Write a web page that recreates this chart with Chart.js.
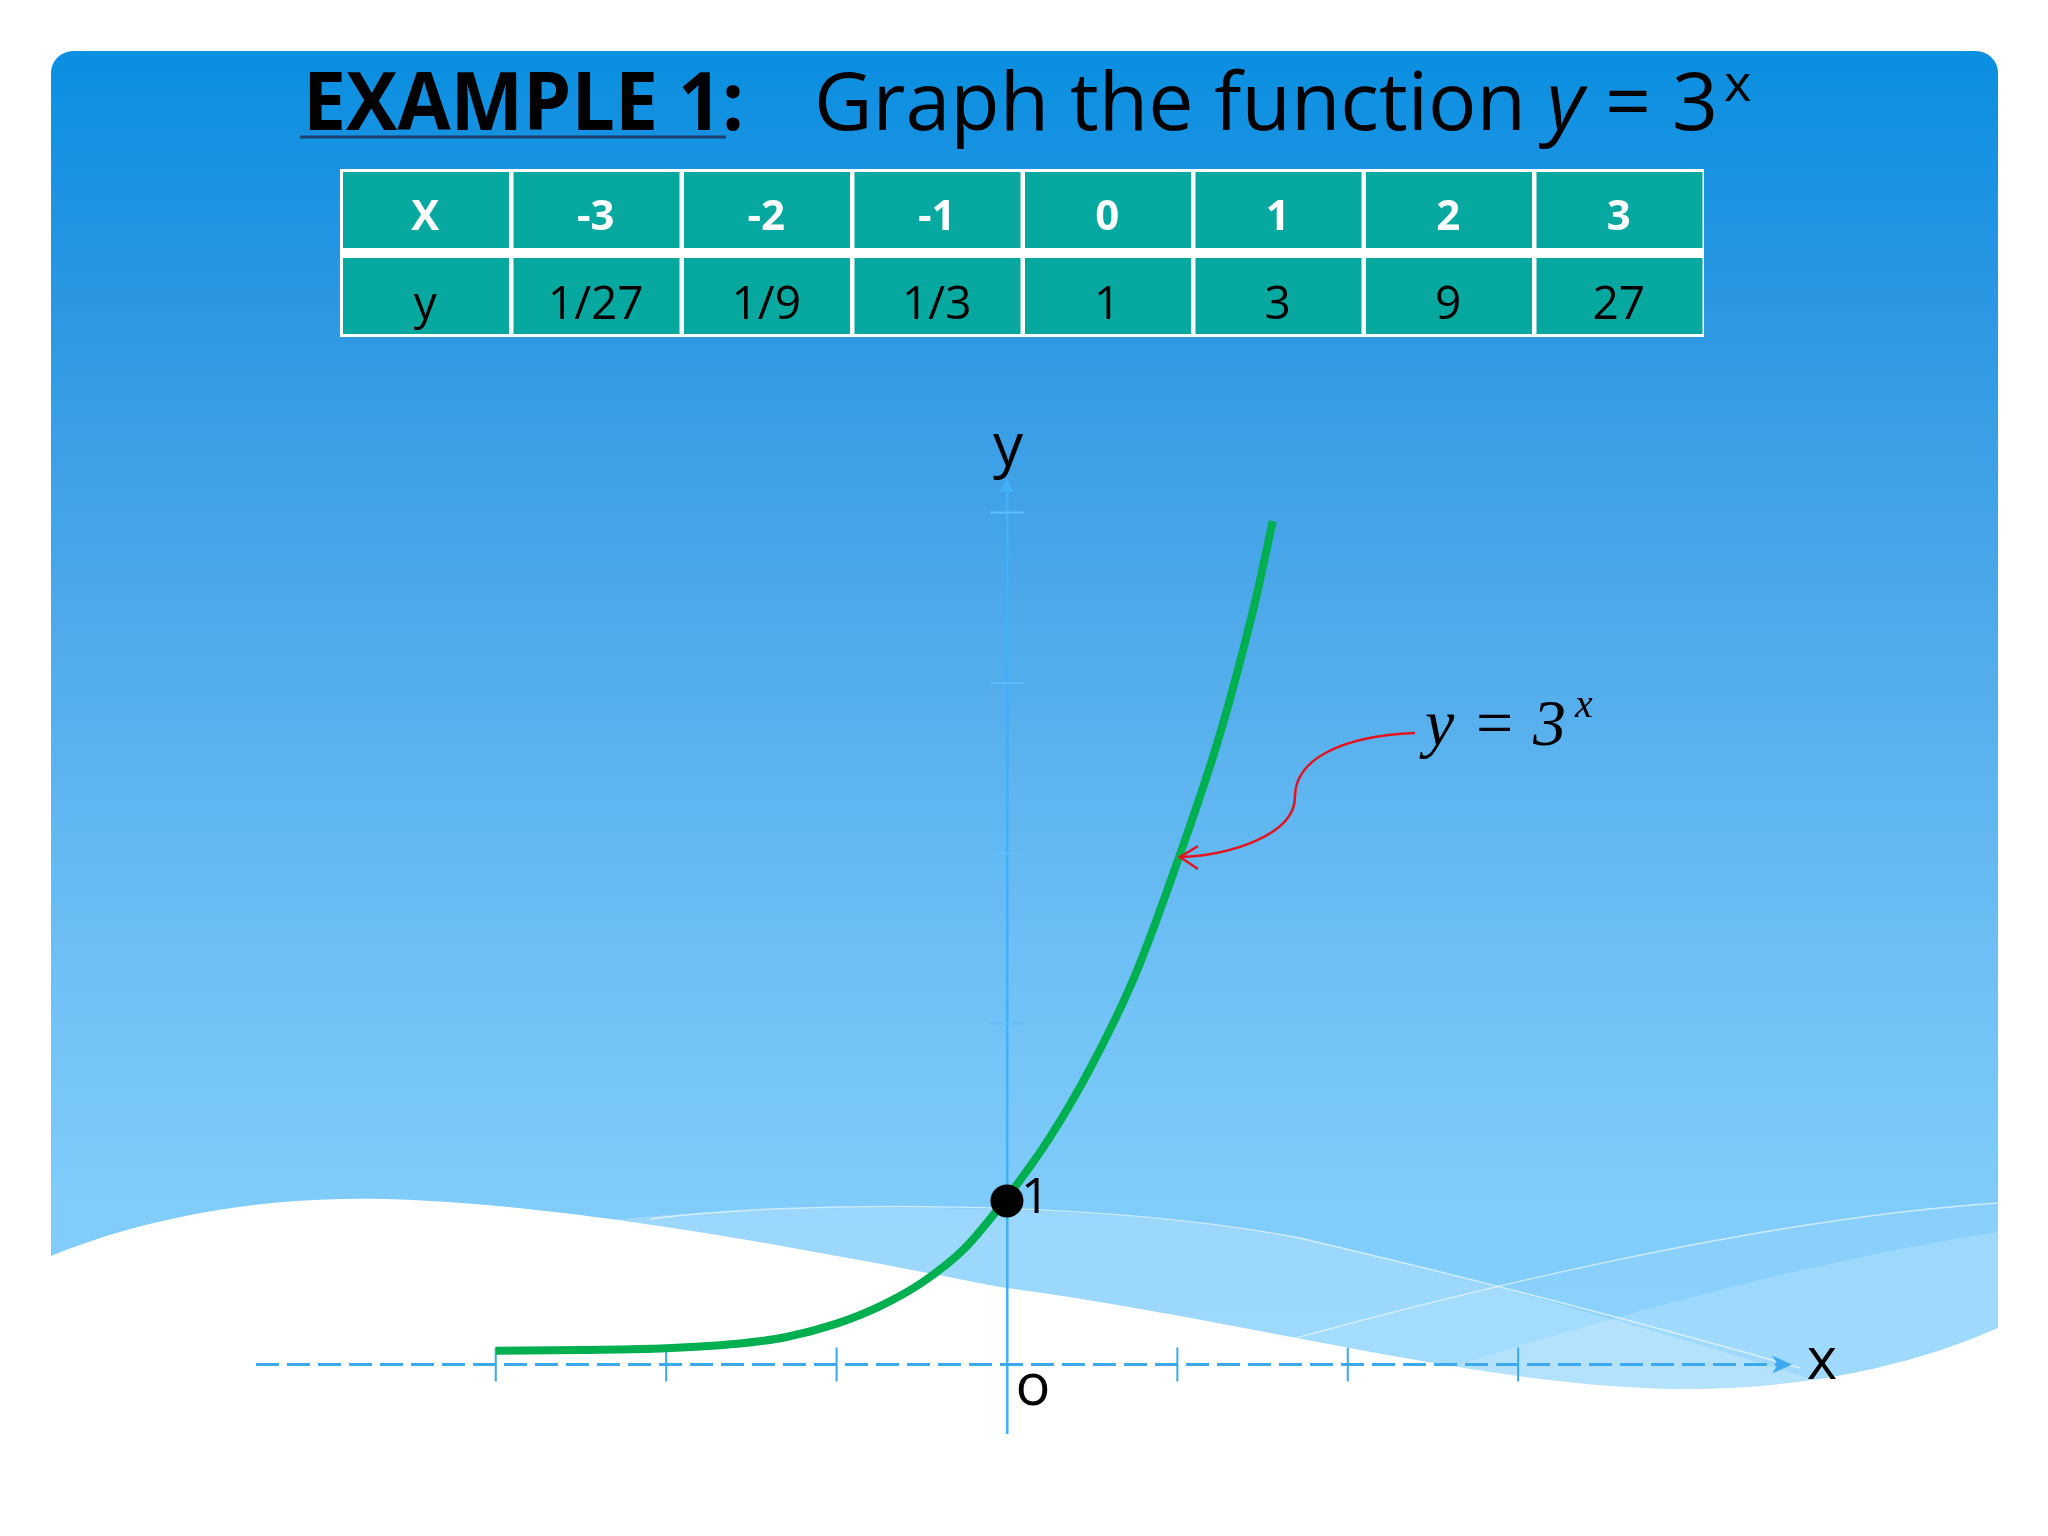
<!DOCTYPE html>
<html>
<head>
<meta charset="utf-8">
<title>Graph of y = 3^x</title>
<script src="https://cdn.jsdelivr.net/npm/chart.js@4.4.1/dist/chart.umd.min.js"></script>
<style>
  html, body { margin: 0; padding: 0; background: #ffffff; }
  #wrap { position: relative; width: 2048px; height: 1536px; }
</style>
</head>
<body>
<div id="wrap"><canvas id="graph"></canvas></div>
<script>
// table shown above the graph
const tableX = ['X', '-3', '-2', '-1', '0', '1', '2', '3'];
const tableY = ['y', '1/27', '1/9', '1/3', '1', '3', '9', '27'];

// points of the green curve
const curveX = [-3, -2.5, -2, -1.6, -1.3, -1, -0.75, -0.5, -0.25, 0, 0.25, 0.5, 0.75, 1.0, 1.25, 1.45, 1.56];
const curveY = [0.08, 0.085, 0.095, 0.12, 0.16, 0.24, 0.34, 0.48, 0.68, 0.98, 1.33, 1.76, 2.28, 2.95, 3.70, 4.45, 4.95];

// marked point (0, 1)
const dotX = [0];
const dotY = [0.96];

// tick marks on the axes
const xTicks = [-3, -2, -1, 1, 2, 3];
const yTicks = [1, 2, 3, 4, 5];

document.addEventListener('DOMContentLoaded', function() {
    const ctx = document.getElementById('graph').getContext('2d');

    function drawBackground(c) {
        // blue panel
        c.save();
        c.beginPath();
        c.roundRect(51, 51, 1947, 1485, [22, 22, 0, 0]);
        c.clip();
        const g = c.createLinearGradient(0, 51, 0, 1320);
        g.addColorStop(0, '#0a8fe1');
        g.addColorStop(0.2, '#2c97e3');
        g.addColorStop(0.45, '#4eaaea');
        g.addColorStop(0.7, '#6cbef4');
        g.addColorStop(0.9, '#7fccfb');
        g.addColorStop(1, '#82cffc');
        c.fillStyle = g;
        c.fillRect(51, 51, 1947, 1485);

        // light bands
        c.fillStyle = 'rgba(255,255,255,0.07)';
        c.beginPath();
        c.moveTo(1263, 1347);
        c.bezierCurveTo(1450, 1295, 1750, 1220, 1998, 1203);
        c.lineTo(1998, 1536);
        c.lineTo(1263, 1536);
        c.fill();

        c.fillStyle = 'rgba(255,255,255,0.18)';
        c.beginPath();
        c.moveTo(1380, 1390);
        c.bezierCurveTo(1560, 1330, 1800, 1262, 1998, 1232);
        c.lineTo(1998, 1536);
        c.lineTo(1380, 1536);
        c.fill();

        c.fillStyle = 'rgba(255,255,255,0.22)';
        c.beginPath();
        c.moveTo(560, 1226);
        c.bezierCurveTo(750, 1200, 1100, 1200, 1300, 1238);
        c.bezierCurveTo(1500, 1285, 1700, 1340, 1998, 1440);
        c.lineTo(1998, 1536);
        c.lineTo(560, 1536);
        c.fill();

        c.strokeStyle = 'rgba(255,255,255,0.6)';
        c.lineWidth = 1.5;
        c.beginPath();
        c.moveTo(650, 1219);
        c.bezierCurveTo(800, 1200, 1100, 1200, 1300, 1238);
        c.bezierCurveTo(1500, 1285, 1650, 1325, 1800, 1368);
        c.stroke();
        c.beginPath();
        c.moveTo(1263, 1347);
        c.bezierCurveTo(1450, 1295, 1750, 1220, 1998, 1203);
        c.stroke();

        // white wave
        c.fillStyle = '#ffffff';
        c.beginPath();
        c.moveTo(51, 1256);
        c.bezierCurveTo(150, 1215, 270, 1196, 384, 1199);
        c.bezierCurveTo(560, 1204, 760, 1240, 1000, 1287);
        c.bezierCurveTo(1250, 1320, 1500, 1392, 1700, 1389);
        c.bezierCurveTo(1830, 1387, 1930, 1358, 1998, 1328);
        c.lineTo(1998, 1536);
        c.lineTo(51, 1536);
        c.closePath();
        c.fill();
        c.restore();
    }

    // draws text squeezed or stretched to a given width
    function fitText(c, text, x, y, width) {
        const w = c.measureText(text).width;
        c.save();
        c.translate(x, y);
        c.scale(width / w, 1);
        c.fillText(text, 0, 0);
        c.restore();
    }

    function drawTitle(c) {
        c.save();
        c.fillStyle = '#000000';
        c.textBaseline = 'alphabetic';
        c.textAlign = 'left';
        c.font = 'bold 80px "Open Sans"';
        fitText(c, 'EXAMPLE 1:', 303, 130, 441);
        c.strokeStyle = '#1b3f6e';
        c.lineWidth = 3;
        c.beginPath();
        c.moveTo(300, 137);
        c.lineTo(726, 137);
        c.stroke();

        // "Graph the function y = 3" spans about 904 px
        c.font = '80px "Open Sans"';
        const w1 = c.measureText('Graph the function ').width;
        const w3 = c.measureText(' = 3').width;
        c.font = 'italic 80px "Open Sans"';
        const w2 = c.measureText('y').width;
        const k = 904 / (w1 + w2 + w3);
        c.translate(814, 130);
        c.scale(k, 1);
        c.font = '80px "Open Sans"';
        c.fillText('Graph the function ', 0, 0);
        c.font = 'italic 80px "Open Sans"';
        c.fillText('y', w1, 0);
        c.font = '80px "Open Sans"';
        c.fillText(' = 3', w1 + w2, 0);
        c.font = '52px "Open Sans"';
        c.fillText('x', w1 + w2 + w3 + 6, -29);
        c.restore();
    }

    function drawTable(c) {
        const left = 340, top = 169, colW = 170.5;
        const rowH = 80, gap = 8;
        c.save();
        c.fillStyle = '#ffffff';
        c.fillRect(left, top, colW * tableX.length, rowH * 2 + gap);
        c.textAlign = 'center';
        c.textBaseline = 'alphabetic';
        for (let i = 0; i < tableX.length; i++) {
            const cx = left + i * colW;
            c.fillStyle = '#06a8a0';
            c.fillRect(cx + 3, top + 3, colW - 4.5, rowH - 4);
            c.fillRect(cx + 3, top + rowH + gap + 1, colW - 4.5, rowH - 4);

            c.fillStyle = '#ffffff';
            c.font = 'bold 42px "Open Sans"';
            c.fillText(tableX[i], cx + colW / 2, top + 61);
            c.fillStyle = '#000000';
            c.font = '46px "Open Sans"';
            c.fillText(tableY[i], cx + colW / 2, top + rowH + gap + 62);
        }
        c.restore();
    }

    const slidePlugin = {
        id: 'slide',
        beforeDraw(chart) {
            const c = chart.ctx;
            drawBackground(c);
            drawTitle(c);
            drawTable(c);
        },
        beforeDatasetsDraw(chart) {
            const c = chart.ctx;
            const xs = chart.scales.x, ys = chart.scales.y;
            const ox = xs.getPixelForValue(0), oy = ys.getPixelForValue(0);
            const left = chart.chartArea.left, right = chart.chartArea.right, top = chart.chartArea.top;
            c.save();

            // dashed x axis
            c.strokeStyle = '#3ca9ee';
            c.lineWidth = 3;
            c.setLineDash([23, 8]);
            c.beginPath();
            c.moveTo(left, oy);
            c.lineTo(right - 6, oy);
            c.stroke();
            c.setLineDash([]);

            c.lineWidth = 2;
            c.strokeStyle = '#3aa8ee';
            xTicks.forEach(v => {
                const px = xs.getPixelForValue(v);
                c.beginPath();
                c.moveTo(px, oy - 17);
                c.lineTo(px, oy + 17);
                c.stroke();
            });
            c.strokeStyle = 'rgba(95,192,255,0.85)';
            yTicks.forEach(v => {
                const py = ys.getPixelForValue(v);
                c.beginPath();
                c.moveTo(ox - 17, py);
                c.lineTo(ox + 17, py);
                c.stroke();
            });

            // arrow heads at the axis ends
            c.fillStyle = '#3ca9ee';
            c.beginPath();
            c.moveTo(right, oy);
            c.lineTo(right - 20, oy - 9);
            c.lineTo(right - 14, oy);
            c.lineTo(right - 20, oy + 9);
            c.closePath();
            c.fill();
            c.fillStyle = '#42b0f8';
            c.beginPath();
            c.moveTo(ox, top - 2);
            c.lineTo(ox - 7, top + 12);
            c.lineTo(ox + 7, top + 12);
            c.closePath();
            c.fill();
            c.restore();
        },
        afterDatasetsDraw(chart) {
            const c = chart.ctx;
            const xs = chart.scales.x, ys = chart.scales.y;
            const ox = xs.getPixelForValue(0), oy = ys.getPixelForValue(0);
            const P = (x, y) => [xs.getPixelForValue(x), ys.getPixelForValue(y)];
            c.save();
            c.fillStyle = '#000000';
            c.textBaseline = 'alphabetic';
            c.textAlign = 'center';
            c.font = '60px "Open Sans"';
            c.fillText('y', ox + 1, chart.chartArea.top - 14);
            c.font = '58px "Open Sans"';
            c.fillText('x', chart.chartArea.right + 30, oy + 14);
            c.fillText('o', ox + 26, oy + 40);
            c.textAlign = 'left';
            c.font = '50px "Open Sans"';
            c.fillText('1', ox + 14, ys.getPixelForValue(dotY[0]) + 12);

            // red callout arrow
            const a0 = P(2.394, 3.706), a1 = P(1.954, 3.688), a2 = P(1.690, 3.548), a3 = P(1.690, 3.331);
            const a4 = P(1.690, 3.107), a5 = P(1.309, 2.990), tip = P(1.015, 2.978);
            c.strokeStyle = '#e3141e';
            c.lineWidth = 2.5;
            c.beginPath();
            c.moveTo(a0[0], a0[1]);
            c.bezierCurveTo(a1[0], a1[1], a2[0], a2[1], a3[0], a3[1]);
            c.bezierCurveTo(a4[0], a4[1], a5[0], a5[1], tip[0], tip[1]);
            c.stroke();
            const b1 = P(1.121, 3.043), b2 = P(1.121, 2.908);
            c.beginPath();
            c.moveTo(b1[0], b1[1]);
            c.lineTo(tip[0], tip[1]);
            c.lineTo(b2[0], b2[1]);
            c.stroke();

            // callout text y = 3^x
            const lab = P(2.453, 3.636);
            c.font = 'italic 66px "Liberation Serif"';
            c.fillText('y', lab[0], lab[1]);
            c.font = '66px "Liberation Serif"';
            c.fillText('=', lab[0] + 51, lab[1]);
            c.font = 'italic 66px "Liberation Serif"';
            c.fillText('3', lab[0] + 108, lab[1]);
            c.font = 'italic 40px "Liberation Serif"';
            c.fillText('x', lab[0] + 150, lab[1] - 28);
            c.restore();
        }
    };

    const curve = curveX.map((x, i) => ({x: x, y: curveY[i]}));
    const dot = dotX.map((x, i) => ({x: x, y: dotY[i]}));

    new Chart(ctx, {
        type: 'scatter',
        data: {
            datasets: [{
                data: curve,
                showLine: true,
                borderColor: '#00b050',
                borderWidth: 8,
                pointRadius: 0,
                cubicInterpolationMode: 'monotone',
                order: 2
            }, {
                data: dot,
                pointRadius: 16.5,
                backgroundColor: '#000000',
                borderWidth: 0,
                order: 1
            }]
        },
        options: {
            responsive: true,
            maintainAspectRatio: false,
            devicePixelRatio: 1,
            animation: false,
            events: [],
            layout: {
                padding: {left: 256, right: 256, top: 480, bottom: 103}
            },
            plugins: {
                legend: {display: false},
                tooltip: {enabled: false},
                title: {display: false}
            },
            scales: {
                x: {
                    type: 'linear',
                    min: -4.407,
                    max: 4.607,
                    position: {y: 0},
                    grid: {display: false, drawTicks: false},
                    ticks: {display: false},
                    border: {display: false},
                    afterFit(scale) { scale.height = 0; }
                },
                y: {
                    type: 'linear',
                    min: -0.402,
                    max: 5.191,
                    position: {x: 0},
                    grid: {display: false, drawTicks: false},
                    ticks: {display: false},
                    border: {display: true, color: '#42b0f8', width: 2.5},
                    afterFit(scale) { scale.width = 0; }
                }
            }
        },
        plugins: [slidePlugin]
    });
});
</script>
</body>
</html>
